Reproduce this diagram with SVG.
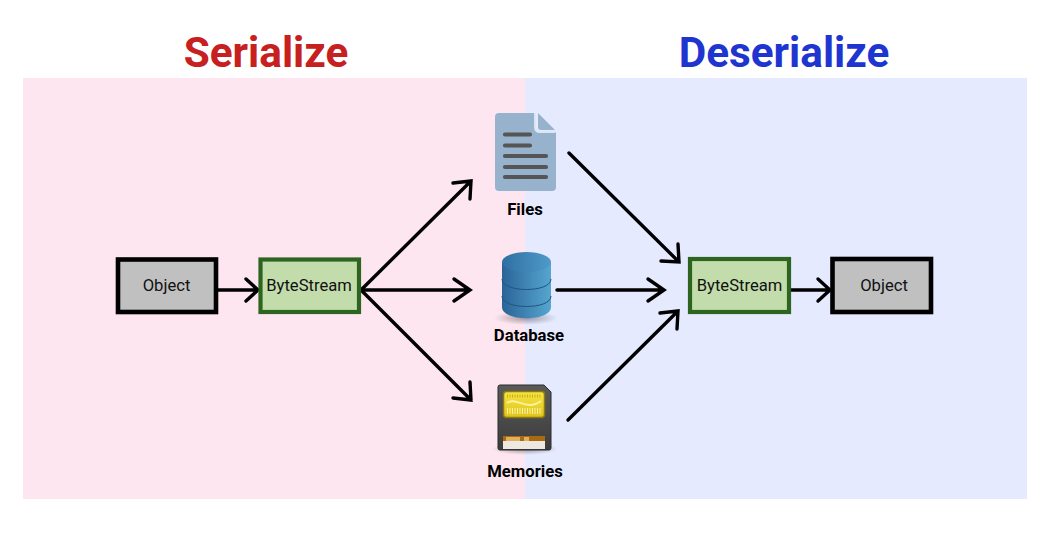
<svg xmlns="http://www.w3.org/2000/svg" width="1052" height="550" viewBox="0 0 1052 550">
<style>
.title{font-family:Roboto,"Liberation Sans",sans-serif;font-size:42.300px;font-weight:700;text-anchor:middle}
.bl{font-family:Roboto,"Liberation Sans",sans-serif;font-size:16.600px;fill:#111;text-anchor:middle}
.il{font-family:Roboto,"Liberation Sans",sans-serif;font-size:16.700px;font-weight:700;fill:#000;text-anchor:middle}
.obj{fill:#c0c0c0;stroke:#000;stroke-width:4.600}
.bs{fill:#c2dcab;stroke:#2d6420;stroke-width:4.200}
.c{fill:none;stroke:#000;stroke-width:3.400;stroke-linecap:round;stroke-linejoin:miter}
.ln{stroke:#555;stroke-width:4.200;stroke-linecap:round}
</style>
<defs>
<linearGradient id="cyl" x1="0" x2="1" y1="0" y2="0"><stop offset="0" stop-color="#2a6496"/><stop offset="1" stop-color="#56a6d0"/></linearGradient>
<linearGradient id="cyt" x1="0" x2="1" y1="0" y2="0"><stop offset="0" stop-color="#2f6fa3"/><stop offset="1" stop-color="#4f9ac8"/></linearGradient>
<radialGradient id="sh"><stop offset="0" stop-color="#000" stop-opacity=".35"/><stop offset="1" stop-color="#000" stop-opacity="0"/></radialGradient>
<linearGradient id="gold" x1="0" x2="0" y1="0" y2="1"><stop offset="0" stop-color="#f6e440"/><stop offset="1" stop-color="#e0c41c"/></linearGradient>
<linearGradient id="card" x1="0" x2="0" y1="0" y2="1"><stop offset="0" stop-color="#5a5a5a"/><stop offset="1" stop-color="#3c3c3c"/></linearGradient>
</defs>
<rect width="1052" height="550" fill="#fff"/>
<rect x="23" y="78" width="502" height="421" fill="#fee6f0"/>
<rect x="525" y="78" width="502" height="421" fill="#e5eaff"/>
<text class="title" x="266" y="67" fill="#c62020">Serialize</text>
<text class="title" x="784" y="67" fill="#1f35d0">Deserialize</text>
<g id="connectors">
<path class="c" d="M218 290H258M246 279L258 290L246 301"/>
<path class="c" d="M361 290L471 181M453 183L471 181L470 199"/>
<path class="c" d="M361 290H470M454 279L470 290L454 301"/>
<path class="c" d="M361 290L471 400M453 398L471 400L470 382"/>
<path class="c" d="M569 153L679 262M661 261L679 262L678 244"/>
<path class="c" d="M557 290H664M648 279L664 290L648 301"/>
<path class="c" d="M568 420L678 311M660 313L678 311L677 329"/>
<path class="c" d="M791 290H830M818 279L830 290L818 301"/>
</g>
<g id="object-left"><rect class="obj" x="118" y="259.500" width="98" height="52.500"/><text class="bl" x="166.500" y="291">Object</text></g>
<g id="bytestream-left"><rect class="bs" x="260.500" y="259.500" width="98.500" height="52.500"/><text class="bl" x="309" y="291">ByteStream</text></g>
<g id="bytestream-right"><rect class="bs" x="690" y="259" width="99" height="53"/><text class="bl" x="739.500" y="291">ByteStream</text></g>
<g id="object-right"><rect class="obj" x="832.500" y="259" width="98.500" height="53"/><text class="bl" x="884" y="291">Object</text></g>
<g id="files">
<path d="M499 113H535V128Q535 132 539 132H556V187Q556 191 552 191H499Q495 191 495 187V117Q495 113 499 113Z" fill="#96b2cd"/>
<path d="M535 113V127Q535 132 540 132H555.500" fill="none" stroke="#dbe6f3" stroke-width="2"/>
<path d="M538 113L555 130H541Q538 130 538 127Z" fill="#96b2cd"/>
<path class="ln" d="M505 134.500H530M505 145.500H530M505 156H546M505 167H546M505 177H546"/>
<text class="il" x="525" y="215">Files</text>
</g>
<g id="database">
<ellipse cx="526" cy="318" rx="32" ry="7" fill="url(#sh)"/>
<path d="M502 262V307C502 322 551 322 551 307V262Z" fill="url(#cyl)"/>
<path d="M502 279C502 293 551 293 551 279M502 296C502 310 551 310 551 296" fill="none" stroke="#1f5580" stroke-width="1"/>
<ellipse cx="526.500" cy="262" rx="24.500" ry="10" fill="url(#cyt)"/>
<text class="il" x="529" y="341">Database</text>
</g>
<g id="memories">
<ellipse cx="525" cy="449" rx="33" ry="6" fill="url(#sh)"/>
<path d="M500 385H544L551 392V448Q551 450 549 450H500Q498 450 498 448V387Q498 385 500 385Z" fill="url(#card)" stroke="#2c2c2c" stroke-width="1"/>
<rect x="503.500" y="391.500" width="41" height="26" rx="3" fill="url(#gold)" stroke="#8c7a10" stroke-width="1.500"/>
<path d="M507 403C516 396 526 412 541 401" fill="none" stroke="#fbf3a0" stroke-width="2"/>
<path d="M507 411H541" stroke="#fbf3a0" stroke-width="6" stroke-dasharray="1 1.500"/>
<path d="M507 396H541" stroke="#c9ad1c" stroke-width="3" stroke-dasharray="1 1.500"/>
<rect x="503" y="436" width="42" height="13" fill="#a96a10"/>
<rect x="506" y="437" width="14" height="4" fill="#e0b060"/><rect x="524" y="437" width="5" height="4" fill="#e0b060"/>
<rect x="503" y="441" width="42" height="8" fill="#eee9e0"/>
<text class="il" x="525" y="477">Memories</text>
</g>
</svg>
